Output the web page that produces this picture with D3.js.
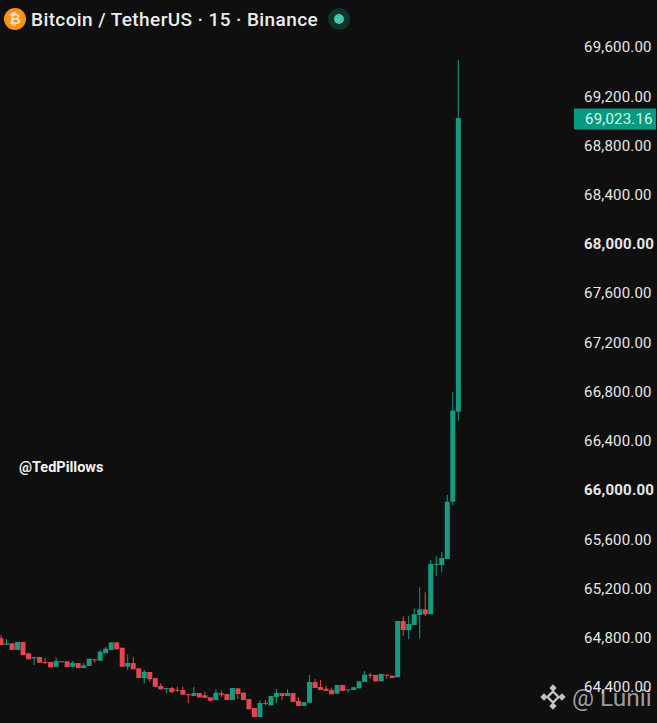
<!DOCTYPE html>
<html>
<head>
<meta charset="utf-8">
<script src="https://cdn.jsdelivr.net/npm/d3@7"></script>
<style>
	html,body{margin:0;padding:0;background:#0f0f0f;overflow:hidden;}
	svg{display:block;font-family:Roboto,"Liberation Sans",sans-serif;}
</style>
</head>
<body>
<script>
//15m candles, oldest first
const opens = [64796,64744,64755,64701,64766,64674,64633,64644,64603,64603,64563,64609,64609,64565,64595,64554,64571,64625,64614,64674,64701,64763,64719,64565,64595,64552,64473,64522,64473,64408,64386,64392,64378,64376,64341,64327,64351,64333,64316,64294,64349,64343,64294,64389,64354,64302,64229,64156,64272,64251,64319,64351,64327,64351,64286,64246,64272,64441,64400,64386,64376,64346,64416,64376,64376,64389,64441,64500,64498,64446,64500,64492,64479,64936,64863,64904,64985,65031,64991,65391,65391,65440,65906,66637];
const highs = [64822,64790,64755,64766,64766,64674,64644,64644,64638,64603,64641,64609,64609,64611,64595,64595,64630,64625,64701,64727,64763,64763,64719,64666,64646,64552,64538,64522,64473,64430,64392,64402,64402,64402,64341,64402,64351,64362,64316,64384,64370,64343,64392,64389,64354,64302,64229,64294,64294,64327,64384,64351,64381,64351,64316,64276,64497,64463,64457,64411,64394,64416,64416,64381,64398,64446,64530,64516,64498,64506,64500,64492,64936,64977,64977,65039,65210,65169,65432,65464,65497,65960,66797,69494];
const lows = [64741,64741,64701,64701,64660,64625,64579,64597,64587,64560,64563,64603,64563,64565,64554,64554,64571,64597,64614,64674,64701,64706,64565,64538,64544,64473,64430,64443,64402,64381,64349,64349,64359,64337,64268,64327,64316,64311,64281,64294,64316,64294,64294,64302,64294,64219,64156,64156,64251,64251,64268,64294,64327,64278,64246,64246,64272,64392,64376,64368,64341,64346,64368,64354,64376,64389,64441,64467,64446,64446,64467,64473,64479,64814,64788,64904,64796,64977,64991,65304,65337,65440,65879,66564];
const closes = [64741,64755,64701,64766,64660,64625,64644,64597,64595,64560,64611,64603,64563,64597,64554,64576,64630,64619,64687,64711,64763,64706,64565,64595,64544,64473,64524,64463,64402,64381,64392,64359,64370,64337,64335,64351,64316,64311,64289,64354,64337,64294,64392,64343,64294,64219,64156,64270,64268,64327,64351,64327,64351,64278,64246,64276,64441,64392,64376,64368,64341,64416,64368,64381,64398,64446,64500,64492,64446,64506,64492,64473,64936,64863,64912,64991,65031,64991,65399,65399,65448,65906,66645,69023.16];

const priceTicks = [69600,69200,68800,68400,68000,67600,67200,66800,66400,66000,65600,65200,64800,64400];
const boldTicks = [68000,66000];
const lastPrice = 69023.16;
const titleText = "Bitcoin / TetherUS · 15 · Binance";

const Config = {
	svg: {Width: 657,Height: 723},
	up: "#169b82",
	down: "#e5454f",
	bodyWidth: 5
};

var svg = d3.select("body").append("svg")
	.attr("width",Config.svg.Width)
	.attr("height",Config.svg.Height);
svg.append("rect").attr("width",Config.svg.Width).attr("height",Config.svg.Height).attr("fill","#0f0f0f");

var scaleX = d3.scaleLinear().domain([0,opens.length-1]).range([1,458.3]);
var scaleY = d3.scaleLinear().domain([64400,69600]).range([687,47]);
var fmt = d3.format(",.2f");

//candles
var candles = svg.append("g").attr("id","candles")
	.selectAll("g")
	.data(d3.range(opens.length))
	.enter().append("g");
candles.append("line")
	.attr("x1",function(i){ return scaleX(i); })
	.attr("x2",function(i){ return scaleX(i); })
	.attr("y1",function(i){ return scaleY(highs[i]); })
	.attr("y2",function(i){ return scaleY(lows[i]); })
	.attr("stroke",function(i){ return closes[i]>=opens[i] ? Config.up : Config.down; })
	.attr("stroke-width",1);
candles.append("rect")
	.attr("x",function(i){ return scaleX(i)-Config.bodyWidth/2; })
	.attr("y",function(i){ return scaleY(Math.max(opens[i],closes[i])); })
	.attr("width",Config.bodyWidth)
	.attr("height",function(i){ return Math.max(1,Math.abs(scaleY(opens[i])-scaleY(closes[i]))); })
	.attr("fill",function(i){ return closes[i]>=opens[i] ? Config.up : Config.down; });

//watermark goes under the axis text
var mark = svg.append("g").attr("transform","translate(553,697)").attr("fill","#c4c4c4");
[[0,-9],[-9,0],[9,0],[0,9]].forEach(function(p){
	mark.append("rect").attr("x",p[0]-2.6).attr("y",p[1]-2.6).attr("width",5.2).attr("height",5.2)
		.attr("transform","rotate(45 "+p[0]+" "+p[1]+")");
});
mark.append("path").attr("d","M0,-5.5L5.5,0L0,5.5L-5.5,0Z").attr("fill","none").attr("stroke","#c4c4c4").attr("stroke-width",2.4);
svg.append("text").attr("x",572).attr("y",706).attr("font-size",24.5).attr("fill","#9c9c9c").text("@ Lunii");

//price axis
var axis = svg.append("g")
	.attr("transform","translate(584,0)")
	.call(d3.axisRight(scaleY).tickValues(priceTicks).tickSize(0).tickPadding(0).tickFormat(fmt));
axis.select(".domain").remove();
axis.selectAll("text")
	.attr("fill","#e6e6e6")
	.attr("font-family","Roboto")
	.attr("font-size",15)
	.attr("letter-spacing",0.2)
	.attr("font-weight",function(d){ return boldTicks.indexOf(d)>=0 ? 700 : 400; });

//last price tag
svg.append("rect").attr("x",574).attr("y",scaleY(lastPrice)-9.5).attr("width",82).attr("height",21).attr("fill","#089981");
svg.append("text").attr("x",585).attr("y",scaleY(lastPrice)+6.5)
	.attr("font-size",15).attr("letter-spacing",0.2).attr("fill","#d9f5ee").text(fmt(lastPrice));

//header
svg.append("circle").attr("cx",15).attr("cy",19).attr("r",11).attr("fill","#f7931a");
svg.append("text").attr("x",15).attr("y",24).attr("text-anchor","middle").attr("font-size",14).attr("font-weight",700).attr("fill","#fbe3c0").text("₿");
svg.append("text").attr("x",31).attr("y",25.5).attr("font-size",19).attr("letter-spacing",0.4).attr("font-weight",500).attr("fill","#ececec").text(titleText);
svg.append("circle").attr("cx",339).attr("cy",19).attr("r",11).attr("fill","#10332d");
svg.append("circle").attr("cx",339).attr("cy",19).attr("r",5).attr("fill","#45c9ab");

svg.append("text").attr("x",19).attr("y",471.5).attr("font-size",14.5).attr("font-weight",700).attr("fill","#f2f2f2").text("@TedPillows");
</script>
</body>
</html>
